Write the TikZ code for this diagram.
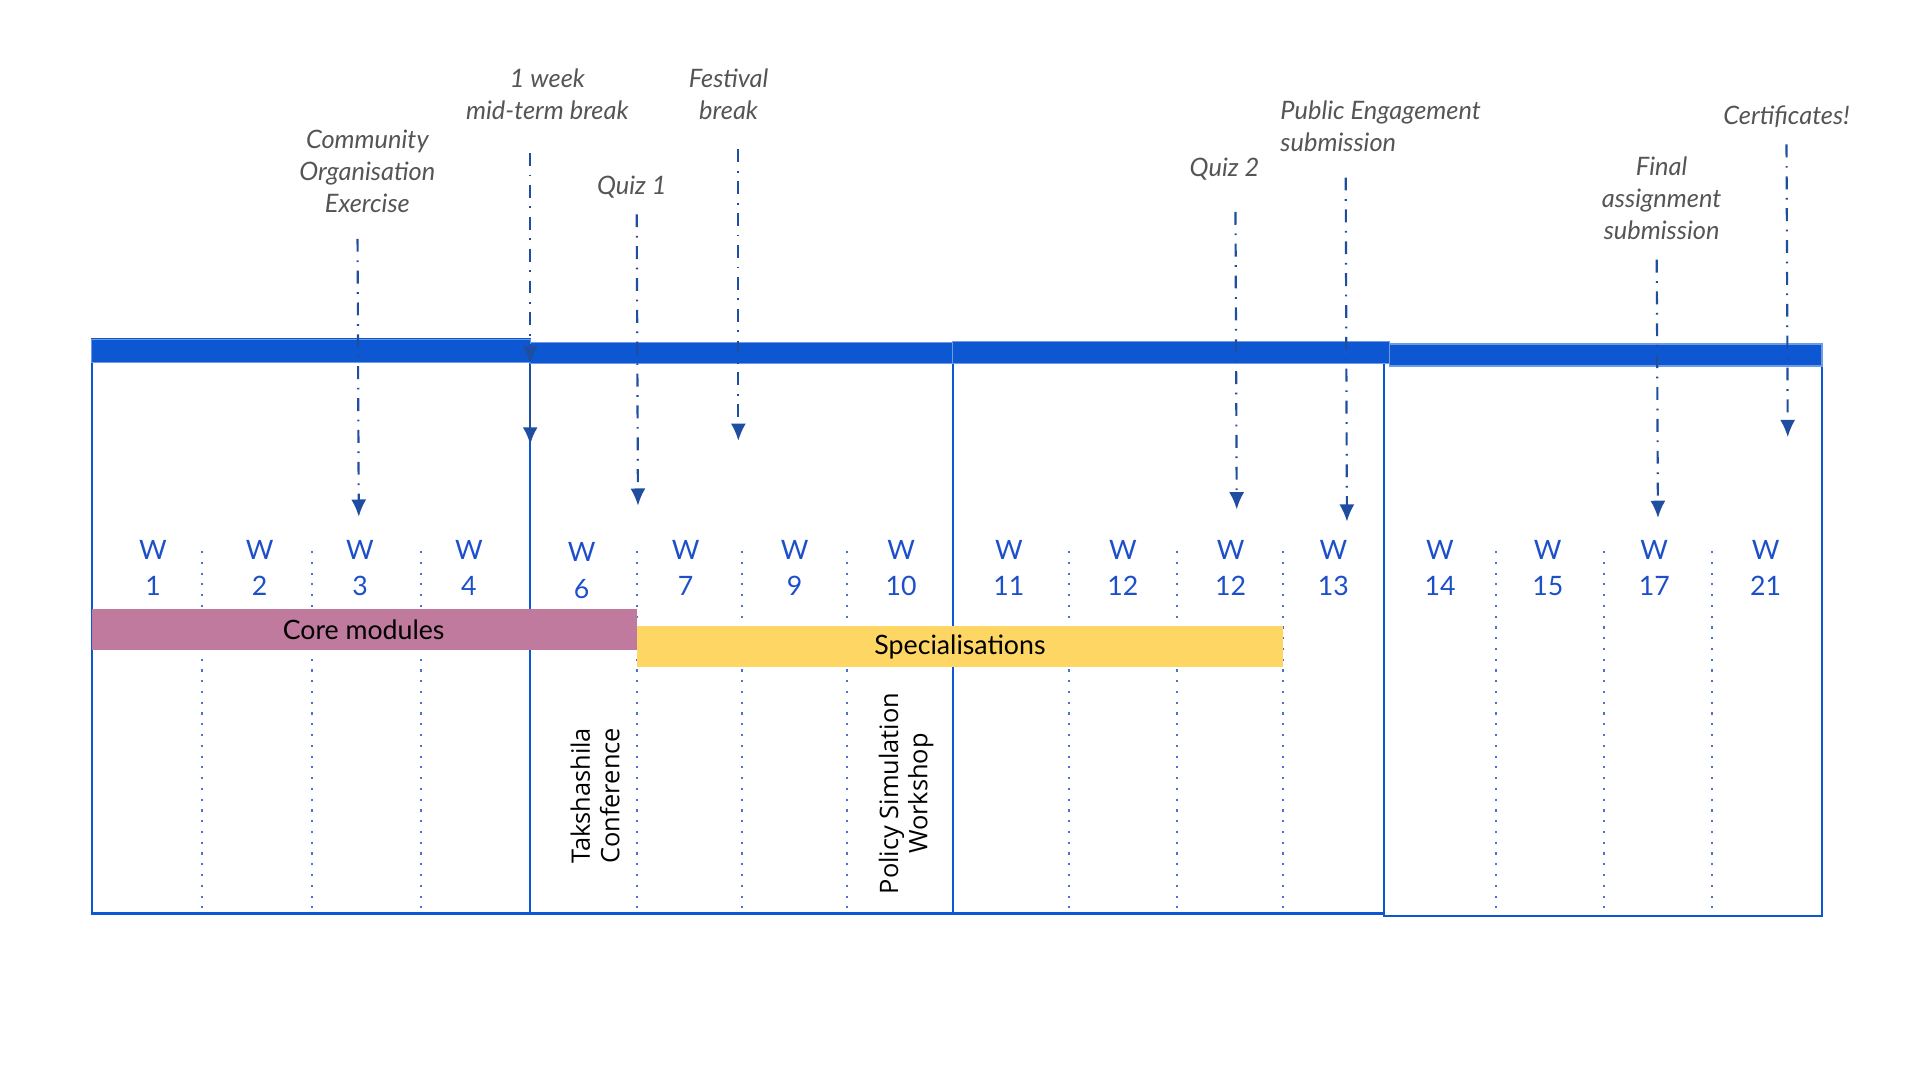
\documentclass[tikz,border=0pt]{standalone}
\usepackage{fontspec}
\setmainfont{Lato}
\newfontfamily\rotf{Open Sans}
\begin{document}
\definecolor{barblue}{HTML}{0D58D2}
\definecolor{wkblue}{HTML}{1C4FC9}
\definecolor{arr}{HTML}{1F4EA0}
\definecolor{core}{HTML}{C07A9E}
\definecolor{spec}{HTML}{FDD663}
\definecolor{ann}{HTML}{555555}
\begin{tikzpicture}[x=0.01cm,y=-0.01cm,
  box/.style={draw=barblue,line width=0.5pt},
  bar/.style={fill=barblue,draw=barblue!60,line width=0.3pt},
  sep/.style={draw=wkblue!80,dotted,line width=0.5pt},
  wk/.style={text=wkblue,font=\fontsize{6.2}{7.4}\selectfont,align=center,inner sep=0},
  note/.style={text=ann,font=\fontsize{5.9}{7.4}\selectfont\itshape,align=center,inner sep=0},
  ev/.style={draw=arr,dash dot,line width=0.5pt,-{Latex[length=4pt,width=3.5pt]}},
  rot/.style={rotate=90,font=\rotf\fontsize{5.9}{6.8}\selectfont,align=center,inner sep=0}]
\usetikzlibrary{arrows.meta}
\useasboundingbox (0,0) rectangle (1568,882);
% separators
\foreach \x in {165,255,344,520,606,692,873,961,1048,1222,1310,1398}
  \draw[sep] (\x,450) -- (\x,746);
% boxes
\draw[box] (75,277) rectangle (433,746);
\draw[box] (433,280) rectangle (778,746);
\draw[box] (778,279) rectangle (1130,746);
\draw[box] (1130,281) rectangle (1488,748);
\draw[bar] (75,277) rectangle (433,296);
\draw[bar] (433,280) rectangle (778,297);
\draw[bar] (778,279) rectangle (1135,297);
\draw[bar] (1135,281) rectangle (1488,299);
% bands
\fill[core] (75,497) rectangle (520,531);
\node[font=\fontsize{6.2}{7}\selectfont] (core) at (297,514) {Core modules};
\fill[spec] (520,511) rectangle (1048,545);
\node[font=\fontsize{6.2}{7}\selectfont] (spec) at (784,528) {Specialisations};
% weeks
\foreach \x/\n [count=\i] in {125/1,212/2,294/3,383/4,560/7,649/9,736/10,824/11,917/12,1005/12,1089/13,1176/14,1264/15,1351/17,1442/21}
  \node[wk] (w\i) at (\x,464) {W\\[1pt]\n};
\node[wk] (w6) at (475,466) {W\\[1pt]6};
% rotated
\node[rot] (tak) at (486,650) {Takshashila\\Conference};
\node[rot] (pol) at (740,648) {Policy Simulation\\Workshop};
% annotations
\node[note] (n1) at (300,140) {Community\\Organisation\\Exercise};
\node[note] (n2) at (447,77) {1 week\\mid-term break};
\node[note] (n3) at (516,153) {Quiz 1};
\node[note] (n4) at (595,77) {Festival\\break};
\node[note] (n5) at (1000,138) {Quiz 2};
\node[note,align=left,anchor=west] (n6) at (1045,103) {Public Engagement\\submission};
\node[note] (n7) at (1357,162) {Final\\assignment\\submission};
\node[note] (n8) at (1459,95) {Certificates!};
\coordinate (a1s) at (292,195); \coordinate (a1e) at (293,422);
\coordinate (a2s) at (433,125); \coordinate (a2e) at (433,363);
\coordinate (a3s) at (520,175); \coordinate (a3e) at (521,413);
\coordinate (a4s) at (603,122); \coordinate (a4e) at (603,360);
\coordinate (a5s) at (1009,173); \coordinate (a5e) at (1010,416);
\coordinate (a6s) at (1099,145); \coordinate (a6e) at (1100,426);
\coordinate (a7s) at (1353,212); \coordinate (a7e) at (1354,423);
\coordinate (a8s) at (1459,118); \coordinate (a8e) at (1460,357);
\foreach \i in {1,3,4,5,6,7,8} \draw[ev] (a\i s) -- (a\i e);
\draw[ev] (a2s) -- (433,297);
\draw[arr,line width=0.6pt,-{Latex[length=4pt,width=3.5pt]}] (433,297) -- (a2e);
\end{tikzpicture}
\end{document}
